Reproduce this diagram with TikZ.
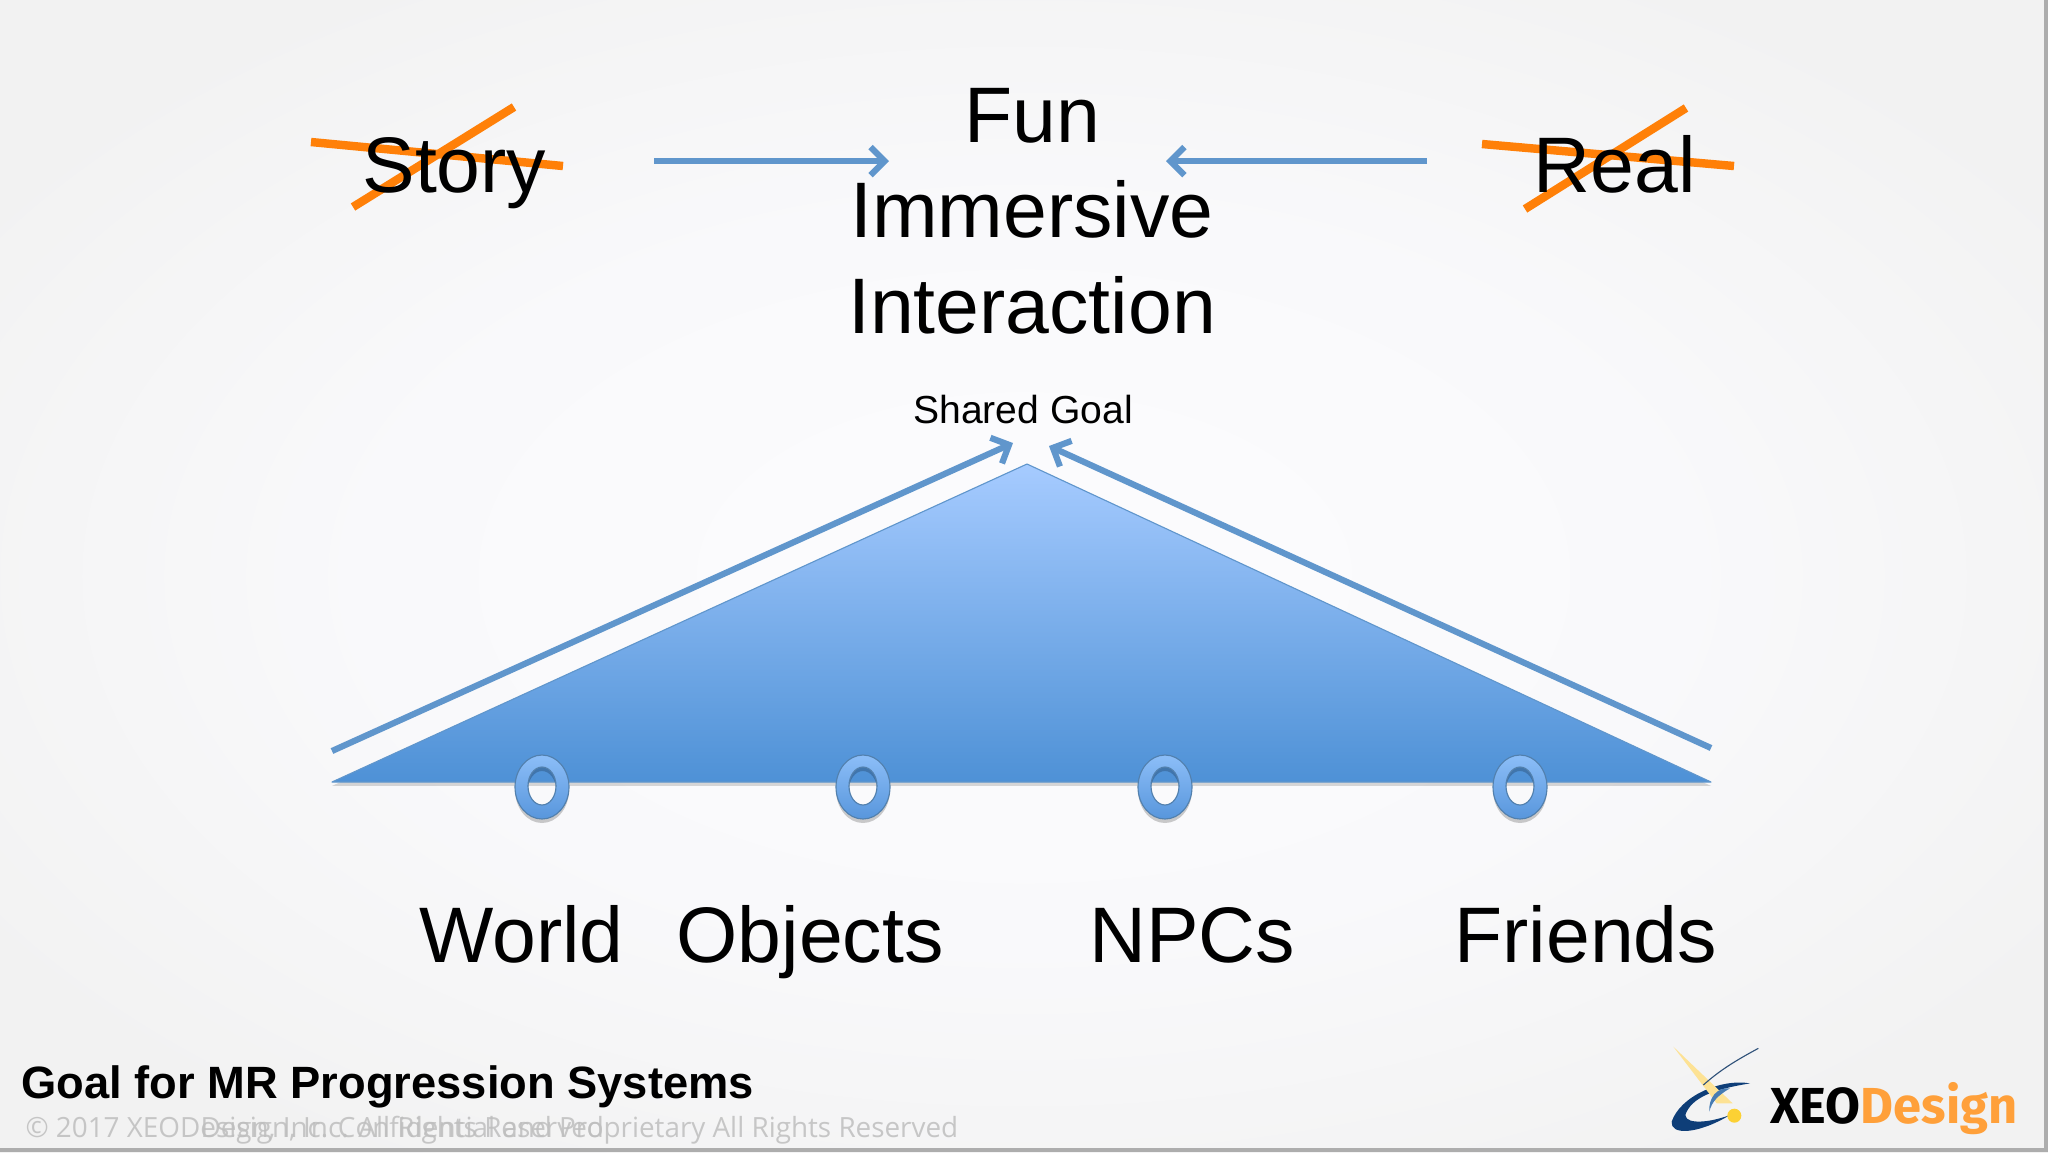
\documentclass[tikz,border=0pt]{standalone}
\usepackage{fontspec}
\setmainfont{Liberation Sans}
\newfontfamily\notefont{Open Sans}
\newfontfamily\logofont{Fira Sans}
\usepackage{xcolor}
\usetikzlibrary{positioning,shapes,arrows.meta,shadows}
\definecolor{arrowblue}{RGB}{96,150,204}
\definecolor{crossorange}{RGB}{255,128,8}
\definecolor{triangletop}{RGB}{166,203,255}
\definecolor{trianglelow}{RGB}{78,145,214}
\definecolor{ringtop}{RGB}{140,190,248}
\definecolor{ringlow}{RGB}{88,150,220}
\definecolor{noteGray}{RGB}{190,190,190}
\definecolor{logoblue}{RGB}{14,62,120}
\definecolor{logoorange}{RGB}{255,160,58}
\definecolor{pagecentre}{RGB}{252,252,254}
\definecolor{pagemid}{RGB}{249,249,251}
\definecolor{pageedge}{RGB}{242,242,242}
\pgfdeclareradialshading{pageglow}{\pgfpoint{0bp}{0bp}}{color(0bp)=(pagecentre); color(16bp)=(pagemid); color(30bp)=(pageedge); color(50bp)=(pageedge)}
\tikzset{
  bigtext/.style={font=\fontsize{28}{33.8}\selectfont, anchor=base west, inner sep=0pt},
  crossline/.style={draw=crossorange, line width=3pt},
  goalarrow/.style={draw=arrowblue, line width=2.2pt, -{Straight Barb[length=5pt,width=10pt]}},
  notetext/.style={font=\notefont\fontsize{9.9}{11}\selectfont, text=noteGray, anchor=base west, inner sep=0pt, text opacity=.85}
}
\newcommand{\ringshape}[2]{
  \fill[black, opacity=.2, even odd rule] (#1,790) ellipse (27 and 33) (#1,790) ellipse (14 and 19);
  \shade[top color=ringtop, bottom color=ringlow, even odd rule, draw=arrowblue!85!black, line width=.4pt] (#1,787) ellipse (27 and 32) (#1,786) ellipse (14 and 19);
  \coordinate (#2) at (#1,787);
}
\begin{document}
\begin{tikzpicture}[x=0.0125cm,y=-0.0125cm]
\useasboundingbox (0,0) rectangle (2048,1152);
\shade[shading=pageglow] (0,0) rectangle (2048,1152);
\fill[black!32] (0,1148) rectangle (2048,1152);
\fill[black!32] (2044,0) rectangle (2048,1152);

\coordinate (storya) at (311,142);
\coordinate (storyb) at (563,166);
\coordinate (storyc) at (353,207);
\coordinate (storyd) at (514,107);
\draw[crossline] (storya) -- (storyb);
\draw[crossline] (storyc) -- (storyd);
\coordinate (reala) at (1482,144);
\coordinate (realb) at (1734,166);
\coordinate (realc) at (1525,209);
\coordinate (reald) at (1686,108);
\draw[crossline] (reala) -- (realb);
\draw[crossline] (realc) -- (reald);

\node[bigtext] (story) at (362,192) {Story};
\node[bigtext] (real) at (1533,192) {Real};
\node[font=\fontsize{28}{33.8}\selectfont, align=center, inner sep=0pt, anchor=base] (fun) at (1032,333) {Fun\\Immersive\\Interaction};

\coordinate (storyout) at (654,161);
\coordinate (storyin) at (889,161);
\coordinate (realout) at (1427,161);
\coordinate (realin) at (1166,161);
\draw[goalarrow] (storyout) -- (storyin);
\draw[goalarrow] (realout) -- (realin);

\node[font=\fontsize{13.9}{16}\selectfont, inner sep=0pt, anchor=base] (goal) at (1023,423) {Shared Goal};

\draw[draw=arrowblue, line join=round, top color=triangletop, bottom color=trianglelow, line width=.4pt, drop shadow={shadow xshift=0pt, shadow yshift=-1.4pt, opacity=.3}] (332,782) -- (1027,464) -- (1711,782) -- cycle;

\coordinate (leftlow) at (332,751);
\coordinate (lefttop) at (1013,443);
\coordinate (rightlow) at (1711,748);
\coordinate (righttop) at (1049,446);
\draw[goalarrow] (leftlow) -- (lefttop);
\draw[goalarrow] (rightlow) -- (righttop);

\ringshape{542}{ringa}
\ringshape{863}{ringb}
\ringshape{1165}{ringc}
\ringshape{1520}{ringd}

\node[bigtext] (world) at (419,962) {World};
\node[bigtext] (objects) at (676,962) {Objects};
\node[bigtext] (npcs) at (1089,962) {NPCs};
\node[bigtext] (friends) at (1454,962) {Friends};

\node[font=\bfseries\fontsize{16.1}{18}\selectfont, anchor=base west, inner sep=0pt] (title) at (21,1098) {Goal for MR Progression Systems};
\node[notetext] (notea) at (25,1137) {© 2017 XEODesign, Inc. Confidential and Proprietary All Rights Reserved};
\node[notetext] (noteb) at (200,1137) {Design, Inc. All Rights Reserved};

\begin{scope}[shift={(1640,1020)},scale=1/3]
\fill[logoblue] (330,190) .. controls (240,175) and (120,230) .. (95,305) .. controls (90,345) and (170,345) .. (270,285) .. controls (190,315) and (120,310) .. (140,275) .. controls (165,225) and (240,205) .. (330,190) -- cycle;
\fill[yellow!50!orange!40] (100,80) -- (230,250) -- (278,250) -- cycle;
\fill[arrowblue!70!logoblue] (270,205) .. controls (230,200) and (205,235) .. (208,275) .. controls (215,245) and (235,225) .. (270,205) -- cycle;
\fill[yellow!60!orange!80] (283,287) circle (21);
\draw[logoblue!70!gray, line width=.4pt] (355,85) .. controls (290,120) and (240,150) .. (190,195);
\end{scope}
\node[font=\logofont\bfseries\fontsize{18}{20}\selectfont, anchor=base west, inner sep=0pt] (logo) at (1770,1123) {XEO\textcolor{logoorange}{Design}};
\end{tikzpicture}
\end{document}
